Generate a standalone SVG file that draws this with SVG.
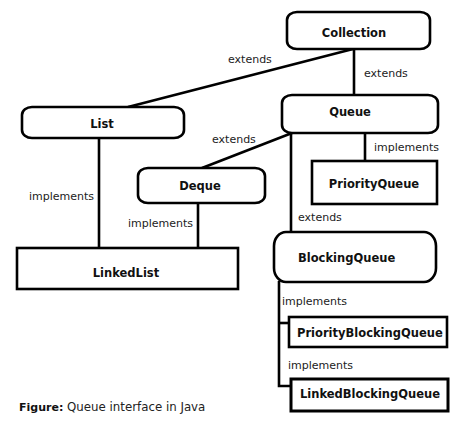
<svg xmlns="http://www.w3.org/2000/svg" width="474" height="429" viewBox="0 0 474 429">
<style>
.box{fill:#fff;stroke:#000;stroke-width:2.6}
.ln{stroke:#000;stroke-width:2.6;fill:none}
.t{font-family:"DejaVu Sans",Verdana,sans-serif;font-size:11.5px;font-weight:bold;fill:#111}
.lb{font-family:"DejaVu Sans",Verdana,sans-serif;font-size:11px;fill:#222}
</style>
<rect width="474" height="429" fill="#fff"/>
<g id="connectors">
<line class="ln" x1="353" y1="49" x2="128" y2="107"/>
<line class="ln" x1="354" y1="49" x2="354" y2="95"/>
<line class="ln" x1="99" y1="138" x2="99" y2="248"/>
<line class="ln" x1="292" y1="133" x2="202" y2="168"/>
<line class="ln" x1="291" y1="133" x2="291" y2="232"/>
<line class="ln" x1="365" y1="133" x2="365" y2="161"/>
<line class="ln" x1="198" y1="203" x2="198" y2="248"/>
<polyline class="ln" points="279,281 279,386 291,386"/>
<line class="ln" x1="279" y1="323" x2="289" y2="323"/>
<text class="lb" x="228" y="63">extends</text>
<text class="lb" x="364" y="77">extends</text>
<text class="lb" x="212" y="143">extends</text>
<text class="lb" x="374" y="151">implements</text>
<text class="lb" x="29" y="200">implements</text>
<text class="lb" x="298" y="221">extends</text>
<text class="lb" x="128" y="227">implements</text>
<text class="lb" x="282" y="305">implements</text>
<text class="lb" x="288" y="369">implements</text>
</g>
<g id="collection">
<rect class="box" x="287" y="12" width="143" height="37" rx="10" ry="8"/>
<text class="t" x="354" y="37" text-anchor="middle">Collection</text>
</g>
<g id="list">
<rect class="box" x="22" y="107" width="162" height="31" rx="10" ry="8"/>
<text class="t" x="102" y="128" text-anchor="middle">List</text>
</g>
<g id="queue">
<rect class="box" x="282" y="95" width="156" height="38" rx="10" ry="8"/>
<text class="t" x="350" y="116" text-anchor="middle">Queue</text>
</g>
<g id="priorityqueue">
<rect class="box" x="312" y="161" width="125" height="43"/>
<text class="t" x="374" y="188" text-anchor="middle">PriorityQueue</text>
</g>
<g id="deque">
<rect class="box" x="138" y="168" width="127" height="35" rx="10" ry="8"/>
<text class="t" x="200" y="190" text-anchor="middle">Deque</text>
</g>
<g id="linkedlist">
<rect class="box" x="17" y="248" width="221" height="41"/>
<text class="t" x="126" y="277" text-anchor="middle">LinkedList</text>
</g>
<g id="blockingqueue">
<rect class="box" x="274" y="232" width="162" height="50" rx="12" ry="14"/>
<text class="t" x="298" y="262">BlockingQueue</text>
</g>
<g id="priorityblockingqueue">
<rect class="box" x="289" y="317" width="158" height="30"/>
<text class="t" x="297" y="337">PriorityBlockingQueue</text>
</g>
<g id="linkedblockingqueue">
<rect class="box" x="291" y="379" width="157" height="32" style="stroke-width:3"/>
<text class="t" x="300" y="398">LinkedBlockingQueue</text>
</g>
<text class="lb" x="19" y="411" style="font-size:11.8px"><tspan font-weight="bold" fill="#111" style="font-size:11px">Figure:</tspan> Queue interface in Java</text>
</svg>
